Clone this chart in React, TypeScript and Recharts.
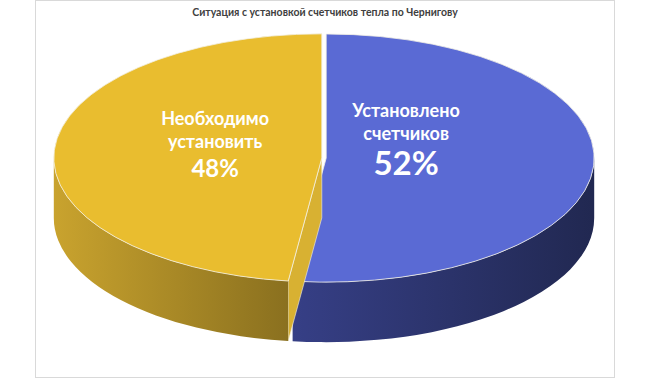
import React from 'react';
import { PieChart, Pie } from 'recharts';

const categories = ['Установлено счетчиков', 'Необходимо установить'];
const shares = [52, 48];
const labelLines = [
  ['Установлено', 'счетчиков'],
  ['Необходимо', 'установить'],
];

const topColors = ['#5a6ad4', '#e9bd2f'];
const sideColors = [
  ['#363f86', '#212851'],
  ['#c9a32e', '#8a701f'],
];
const wallColors = ['#3c468e', '#d8b132'];

const data = categories.map((name, i) => ({ name, value: shares[i] }));

const TILT = 0.463;
const DEPTH = 60;
const EXPLODE = 2.2;
const RAD = Math.PI / 180;

// label placement inside each slice (fraction of radius, vertical shift, percent baseline offset)
const LABEL_POS = [
  { r: 0.307, dy: -4, pct: 21 },
  { r: 0.407, dy: 4, pct: 15 },
];
const PCT_SIZE = [33, 24];

const pt = (cx: number, cy: number, rx: number, ry: number, a: number) => [
  cx + rx * Math.cos(a * RAD),
  cy - ry * Math.sin(a * RAD),
];

function sliceIndex(props: any) {
  const name = props.name ?? props.payload?.name;
  const i = categories.indexOf(name);
  return i >= 0 ? i : props.index ?? 0;
}

function Slice3D(props: any) {
  const { cx, cy, outerRadius, startAngle, endAngle } = props;
  const idx = sliceIndex(props);
  const s = Math.max(startAngle, endAngle);
  const e = Math.min(startAngle, endAngle);
  const mid = (s + e) / 2;
  const rx = outerRadius;
  const ry = outerRadius * TILT;
  const ox = cx + EXPLODE * Math.cos(mid * RAD);
  const oy = cy - EXPLODE * Math.sin(mid * RAD) * TILT;

  const [sx, sy] = pt(ox, oy, rx, ry, s);
  const [ex, ey] = pt(ox, oy, rx, ry, e);
  const large = s - e > 180 ? 1 : 0;
  const top = `M${ox},${oy} L${sx},${sy} A${rx},${ry} 0 ${large} 1 ${ex},${ey} Z`;

  const sides: string[] = [];
  [-360, 0, 360].forEach((shift) => {
    const lo = Math.max(e, -180 + shift);
    const hi = Math.min(s, shift);
    if (hi - lo > 0.01) {
      const [hx, hy] = pt(ox, oy, rx, ry, hi);
      const [lx, ly] = pt(ox, oy, rx, ry, lo);
      sides.push(
        `M${hx},${hy} A${rx},${ry} 0 0 1 ${lx},${ly} L${lx},${ly + DEPTH} A${rx},${ry} 0 0 0 ${hx},${hy + DEPTH} Z`
      );
    }
  });

  const walls: string[] = [];
  const wall = (a: number) => {
    const [px, py] = pt(ox, oy, rx, ry, a);
    return `M${ox},${oy} L${px},${py} L${px},${py + DEPTH} L${ox},${oy + DEPTH} Z`;
  };
  if (Math.sin((s + 90) * RAD) < -0.01) walls.push(wall(s));
  if (Math.sin((e - 90) * RAD) < -0.01) walls.push(wall(e));

  const gid = `side-grad-${idx}`;
  return (
    <g>
      <defs>
        <linearGradient id={gid} x1="0" y1="0" x2="1" y2="0">
          <stop offset="0%" stopColor={sideColors[idx][0]} />
          <stop offset="100%" stopColor={sideColors[idx][1]} />
        </linearGradient>
      </defs>
      {walls.map((d, i) => (
        <path key={`w${i}`} d={d} fill={wallColors[idx]} stroke="#f3f0e4" strokeWidth={0.6} />
      ))}
      {sides.map((d, i) => (
        <path key={`s${i}`} d={d} fill={`url(#${gid})`} stroke="none" />
      ))}
      <path d={top} fill={topColors[idx]} stroke="#f3f0e4" strokeWidth={0.8} />
    </g>
  );
}

function SliceLabel(props: any) {
  const { cx, cy, midAngle, outerRadius } = props;
  const idx = sliceIndex(props);
  const pos = LABEL_POS[idx];
  const x = cx + outerRadius * pos.r * Math.cos(midAngle * RAD);
  const y = cy + pos.dy;
  return (
    <g fontFamily="Lato, 'Open Sans', sans-serif" fontWeight={700} fill="#ffffff" textAnchor="middle">
      <text x={x} y={y - 37} fontSize={18}>{labelLines[idx][0]}</text>
      <text x={x} y={y - 14} fontSize={18}>{labelLines[idx][1]}</text>
      <text x={x} y={y + pos.pct} fontSize={PCT_SIZE[idx]}>{`${shares[idx]}%`}</text>
    </g>
  );
}

export default function App() {
  return (
    <div style={{ position: 'absolute', left: 0, top: 0, width: 650, height: 379, background: '#fff' }}>
      <div
        style={{
          position: 'absolute',
          left: 35,
          top: 0,
          width: 578,
          height: 376,
          border: '1px solid #d9d9d9',
          boxSizing: 'content-box',
        }}
      />
      <div
        style={{
          position: 'absolute',
          left: 0,
          top: 6,
          width: 650,
          textAlign: 'center',
          fontFamily: "Lato, 'Open Sans', sans-serif",
          fontWeight: 700,
          fontSize: 10.5,
          color: '#404040',
        }}
      >
        Ситуация с установкой счетчиков тепла по Чернигову
      </div>
      <div style={{ position: 'absolute', left: 0, top: 0 }}>
        <PieChart width={650} height={379} margin={{ top: 0, right: 0, bottom: 0, left: 0 }}>
          <Pie
            data={data}
            dataKey="value"
            nameKey="name"
            cx={324}
            cy={158}
            outerRadius={268}
            startAngle={90}
            endAngle={-270}
            stroke="none"
            labelLine={false}
            label={SliceLabel}
            shape={Slice3D}
            activeShape={Slice3D}
            isAnimationActive={false}
          />
        </PieChart>
      </div>
    </div>
  );
}
